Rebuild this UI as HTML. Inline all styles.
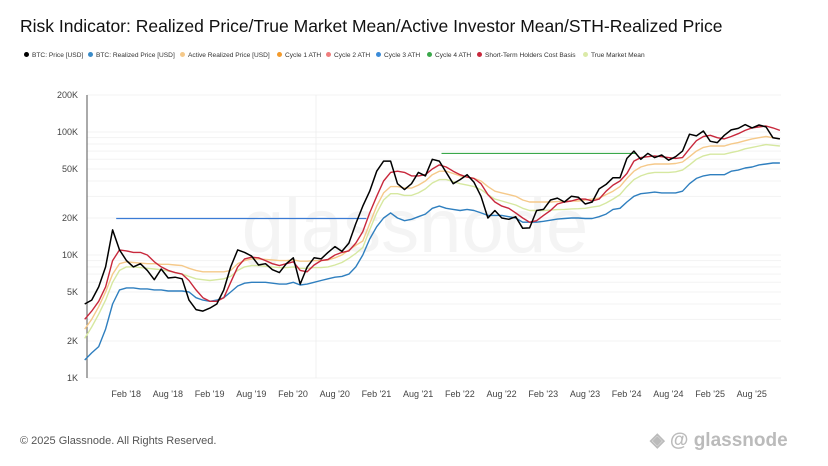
<!DOCTYPE html>
<html><head><meta charset="utf-8">
<style>
body{margin:0;width:828px;height:466px;background:#fff;font-family:"Liberation Sans",sans-serif;overflow:hidden;position:relative}
#title{position:absolute;left:20px;top:16px;font-size:17.5px;color:#111}
.lg{position:absolute;top:52px;font-size:6.6px;color:#333;white-space:nowrap}
.lg i{display:inline-block;width:5px;height:5px;border-radius:50%;margin-right:3px;vertical-align:0px}
#foot{position:absolute;left:20px;top:435px;font-size:11px;color:#555}
#logo{position:absolute;left:650px;top:429px;font-size:19px;color:#bbb;font-weight:bold}
svg{position:absolute;left:0;top:0}
</style></head><body>
<div id="title">Risk Indicator: Realized Price/True Market Mean/Active Investor Mean/STH-Realized Price</div>
<div class="lg" style="left:24px"><i style="background:#000"></i>BTC: Price [USD]</div>
<div class="lg" style="left:88px"><i style="background:#3a8bc8"></i>BTC: Realized Price [USD]</div>
<div class="lg" style="left:180px"><i style="background:#f5c98a"></i>Active Realized Price [USD]</div>
<div class="lg" style="left:277px"><i style="background:#f39a2b"></i>Cycle 1 ATH</div>
<div class="lg" style="left:326px"><i style="background:#ef7d7d"></i>Cycle 2 ATH</div>
<div class="lg" style="left:376px"><i style="background:#3a8bd8"></i>Cycle 3 ATH</div>
<div class="lg" style="left:427px"><i style="background:#3aa84a"></i>Cycle 4 ATH</div>
<div class="lg" style="left:477px"><i style="background:#c8283c"></i>Short-Term Holders Cost Basis</div>
<div class="lg" style="left:583px"><i style="background:#dbeaa8"></i>True Market Mean</div>
<svg id="chart" width="828" height="466"></svg>
<div id="foot">© 2025 Glassnode. All Rights Reserved.</div>
<div id="logo">◈ @ glassnode</div>
<script>
const startYear=2017.583; // Aug 2017, monthly points
const price=[4000,4300,5500,8000,16000,11000,9000,8000,8500,7500,6300,7700,6500,6600,6400,4300,3600,3500,3700,4000,5200,8000,11000,10500,9800,8300,8500,7600,7200,8500,9500,5800,8000,9500,9300,10500,11700,10700,12500,18000,25000,33000,48000,58000,58000,38000,34000,38000,47000,44000,60000,58000,47000,38000,41000,45000,39000,30000,20000,23000,20000,19500,20500,16500,16600,23000,23500,28000,29000,27000,30000,29500,26000,27000,34500,37500,42500,42500,61000,70000,60000,67000,62000,65000,59000,63000,70000,96000,93000,102000,84000,82000,94000,104000,107000,115000,108000,114000,110000,90000,88000];
const realized=[1400,1600,1800,2500,4000,5200,5400,5400,5300,5300,5200,5200,5100,5100,5100,5000,4500,4300,4200,4300,4500,5000,5600,5900,6000,6000,6000,5900,5800,5800,6000,5700,5800,6000,6200,6400,6600,6700,7000,8000,10000,13500,17000,20000,22000,20000,19000,19500,20500,21500,24000,25000,24000,23500,23000,23500,23000,22000,21000,21000,21000,20500,20000,18500,18500,18500,18800,19200,19600,19800,20000,20000,19800,19800,20500,21500,23500,24000,27000,30000,31500,32000,32500,32000,32000,32000,33000,38000,42000,44000,45000,45000,45000,48000,49000,51000,52000,54000,55000,56000,56000];
const activeReal=[2500,3000,3800,5000,7000,8500,8800,8700,8600,8500,8500,8400,8400,8300,8200,7800,7500,7300,7300,7300,7300,7500,8500,9000,9300,9300,9200,9100,9000,9000,9100,8900,8900,9000,9000,9100,9500,10000,11000,12000,13000,18000,25000,32000,36000,36000,35000,35000,37000,40000,45000,48000,48000,46000,44000,43000,42000,40000,36000,33000,32000,31000,30000,28000,27000,27000,27000,27000,27200,27300,27500,27500,28000,28500,29000,31000,33000,36000,42000,48000,52000,54000,55000,55000,55000,55500,57000,63000,70000,75000,77000,77000,77000,80000,82000,85000,88000,90000,92000,90000,88000];
const trueMean=[2100,2600,3300,4300,6000,7500,8000,8000,7900,7800,7700,7600,7400,7200,7000,6700,6400,6300,6200,6300,6400,6700,7500,8000,8200,8200,8100,8000,7900,7900,8000,7800,7800,7900,7900,8000,8300,8700,9400,10300,11500,16000,22000,28000,31500,31500,30500,30500,32000,34500,38500,41000,41000,39500,38000,37000,36000,34000,31000,28500,27500,26500,25500,24000,23000,23000,23000,23200,23400,23500,23700,23800,24000,24500,25000,26500,28500,31000,36000,41000,44000,46000,47000,47000,47000,47500,49000,54000,60000,64000,66000,66000,66000,68000,70000,73000,75000,77000,79000,78000,77000];
const sth=[3000,3500,4200,5500,9000,11000,10800,10500,10500,10000,8800,8000,7500,7200,7000,6200,5200,4500,4200,4200,4500,6000,8000,9300,9600,9500,9000,8500,8200,8500,8800,7500,7300,8300,9000,9200,10000,10500,10800,12500,15500,22000,30000,40000,47000,48000,47000,44000,44000,45000,50000,54000,52000,48000,45000,43000,42000,38000,31000,27000,25000,24000,22000,20000,18500,19000,21000,23000,26000,27000,27500,28500,28500,27500,28500,33000,37000,40000,46000,58000,62000,63000,64000,63000,62000,61000,62000,73000,85000,92000,94000,90000,88000,92000,97000,103000,108000,110000,112000,108000,103000];
const athLevels=[19800,67000];
const athStart=[2017.96,2021.86];
const athEnd=[2020.96,2024.2];
const yTicks=[1000,2000,5000,10000,20000,50000,100000,200000];
const yTickLabels=["1K","2K","5K","10K","20K","50K","100K","200K"];
const xTicks=[2018.08,2018.58,2019.08,2019.58,2020.08,2020.58,2021.08,2021.58,2022.08,2022.58,2023.08,2023.58,2024.08,2024.58,2025.08,2025.58];
const xTickLabels=["Feb '18","Aug '18","Feb '19","Aug '19","Feb '20","Aug '20","Feb '21","Aug '21","Feb '22","Aug '22","Feb '23","Aug '23","Feb '24","Aug '24","Feb '25","Aug '25"];

const NS="http://www.w3.org/2000/svg";
const svg=document.getElementById('chart');
const X0=87,X1=781,Y0=378,Y1=95;
const T0=2017.61,T1=2025.93;
function xs(t){return X0+(t-T0)/(T1-T0)*(X1-X0);}
function ys(v){return Y0-(Math.log10(v)-3)/(Math.log10(200000)-3)*(Y0-Y1);}
function tOf(i){return startYear+i/12;}
function mk(tag,attrs){const e=document.createElementNS(NS,tag);for(const k in attrs)e.setAttribute(k,attrs[k]);svg.appendChild(e);return e;}

const wm=mk('text',{x:415,y:252,'text-anchor':'middle','font-size':76,'font-family':'Liberation Sans, sans-serif',fill:'#f4f4f4'});
wm.textContent='glassnode';



for(let d=3;d<=5;d++){for(let m=1;m<10;m++){const v=m*Math.pow(10,d);if(v>200000)break;
 const g=mk('line',{x1:X0,x2:X1,y1:ys(v),y2:ys(v),stroke:'#f3f3f3','stroke-width':1});
 
 }}
yTicks.forEach((v,i)=>{
 const t=mk('text',{x:78,y:ys(v)+3,'text-anchor':'end','font-size':9,fill:'#444','font-family':'Liberation Sans, sans-serif'});
 t.textContent=yTickLabels[i];
 
 
});
xTicks.forEach((v,i)=>{
 const t=mk('text',{x:xs(v),y:397,'text-anchor':'middle','font-size':9,fill:'#444','font-family':'Liberation Sans, sans-serif'});
 t.textContent=xTickLabels[i];
 
 
});
const vl=mk('line',{x1:316,x2:316,y1:Y1,y2:Y0,stroke:'#f0f0f0'});


const ax=mk('line',{x1:X0,x2:X0,y1:Y1,y2:Y0,stroke:'#555'});



function series(arr,color,w,name){
 const d=arr.map((v,i)=>(i?'L':'M')+xs(tOf(i)).toFixed(1)+','+ys(v).toFixed(1)).join('');
 const p=mk('path',{d:d,fill:'none',stroke:color,'stroke-width':w,'stroke-linejoin':'round'});
 
 
}
series(realized,'#2f7fbf',1.4,'realized-price-line');
series(trueMean,'#d6e8a0',1.4,'true-market-mean-line');
series(activeReal,'#f5c98a',1.4,'active-realized-price-line');
athLevels.forEach((v,i)=>{
 const l=mk('line',{x1:xs(athStart[i]),x2:xs(athEnd[i]),y1:ys(v),y2:ys(v),stroke:i?'#3aa84a':'#3a7bd5','stroke-width':1.2});
 
 
});
series(sth,'#c8283c',1.4,'sth-cost-basis-line');
series(price,'#000',1.5,'btc-price-line');
</script>
</body></html>
